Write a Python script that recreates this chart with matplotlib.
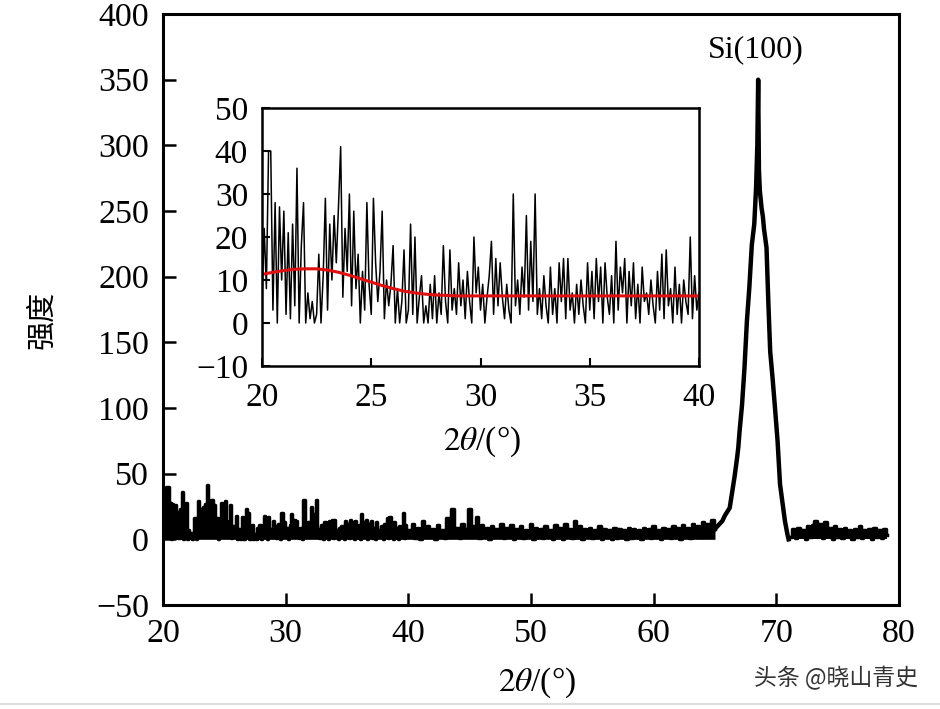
import numpy as np
import matplotlib
matplotlib.use("Agg")
import matplotlib.pyplot as plt
from matplotlib.lines import Line2D

plt.rcParams['font.family'] = ['Liberation Serif', 'DejaVu Serif']
plt.rcParams['mathtext.fontset'] = 'stix'

# 20-40° の細かいスキャン (0.1° 刻み)
scan_x = np.arange(200, 401) / 10.0
scan_y = [
    5, 22, 8, 40, 40, 3, 28, 0, 27, 10,
    26, 2, 21, 1, 23, 4, 36, 0, 18, 28,
    0, 7, 1, 5, 0, 2, 16, 0, 11, 29,
    3, 23, 10, 25, 14, 27, 41, 6, 22, 12,
    30, 4, 26, 8, 16, 0, 12, 3, 28, 9,
    2, 29, 14, 5, 12, 26, 1, 10, 4, 9,
    18, 0, 8, 0, 5, 17, 0, 3, 23, 2,
    20, 0, 6, 11, 0, 4, 0, 9, 1, 11,
    0, 7, 2, 18, 5, 0, 17, 3, 8, 2,
    14, 4, 10, 1, 12, 5, 0, 20, 7, 13,
    3, 9, 0, 6, 11, 19, 2, 15, 4, 14,
    6, 1, 9, 3, 0, 30, 4, 10, 2, 13,
    6, 25, 3, 19, 5, 30, 2, 8, 1, 11,
    4, 0, 13, 2, 8, 0, 14, 5, 15, 1,
    15, 3, 7, 0, 9, 2, 10, 4, 0, 14,
    3, 12, 1, 15, 5, 13, 0, 14, 6, 2,
    11, 0, 19, 3, 13, 7, 15, 0, 12, 4,
    14, 1, 9, 0, 13, 5, 7, 2, 10, 4,
    0, 12, 3, 16, 1, 17, 4, 8, 0, 13,
    2, 9, 0, 10, 5, 2, 20, 1, 11, 3,
    7,
]

# 40-65° (0.2° 刻み)
wide_x = np.arange(201, 326) / 5.0
wide_y = [
    3, 12, 1, 9, 0, 14, 4, 10, 2, 8,
    0, 11, 3, 7, 1, 16, 2, 23, 5, 9,
    1, 12, 3, 8, 23, 2, 10, 17, 1, 11,
    3, 9, 0, 10, 2, 8, 4, 12, 1, 9,
    3, 11, 0, 8, 2, 10, 1, 7, 3, 12,
    0, 9, 2, 8, 1, 10, 3, 7, 0, 11,
    2, 9, 0, 12, 3, 8, 1, 14, 2, 10,
    0, 8, 3, 9, 1, 7, 2, 10, 0, 8,
    2, 7, 0, 9, 1, 8, 3, 7, 0, 9,
    1, 8, 2, 7, 0, 9, 3, 8, 1, 10,
    2, 7, 0, 9, 3, 8, 1, 10, 2, 9,
    0, 11, 3, 9, 1, 12, 4, 10, 2, 13,
    3, 12, 5, 15, 8,
]

# Si(100) ピーク
peak_x = [65.4, 65.6, 65.8, 66.0, 66.2, 66.4, 66.6, 66.8, 66.9, 67.0,
          67.2, 67.4, 67.6, 67.8, 68.0, 68.2, 68.35, 68.45, 68.52, 68.58,
          68.65, 68.8, 68.9, 69.0, 69.2, 69.35, 69.5, 69.7, 69.9, 70.1,
          70.3, 70.5, 70.7, 70.9, 71.0]
peak_y = [12, 14, 18, 21, 24, 36, 48, 62, 70, 82,
          102, 130, 166, 192, 224, 240, 268, 300, 350, 282,
          266, 252, 246, 236, 222, 180, 143, 122, 99, 75,
          42, 28, 14, 4, 0]

# 71-79°
tail_x = np.arange(356, 396) / 5.0
tail_y = [
    2, 8, 1, 9, 3, 7, 0, 10, 2, 11,
    14, 3, 12, 1, 13, 4, 9, 0, 10, 2,
    8, 1, 9, 3, 7, 0, 8, 2, 10, 1,
    7, 3, 8, 0, 9, 2, 7, 1, 8, 3,
]

# 赤いフィット曲線
fit_x = [20, 20.5, 21, 21.5, 22, 22.5, 23, 23.5, 24, 24.5, 25, 25.5, 26,
         26.5, 27, 27.5, 28, 28.5, 29, 30, 32, 34, 36, 38, 40]
fit_y = [11.3, 11.8, 12.2, 12.5, 12.6, 12.6, 12.3, 11.8, 11.1, 10.3, 9.5,
         8.7, 8.0, 7.4, 7.0, 6.7, 6.5, 6.4, 6.3, 6.3, 6.3, 6.3, 6.3, 6.3, 6.3]

fig = plt.figure(figsize=(9.4, 7.09), dpi=100)
ax = fig.add_axes([163 / 940, 1 - 605 / 709, 736 / 940, 591 / 709])
noise_x = np.concatenate([scan_x, wide_x])
noise_y = np.concatenate([scan_y, wide_y])
# 太線で描くと低角側のノイズは黒い帯になる
ax.fill_between(noise_x, 0, noise_y, step='mid', color='black', lw=0)
ax.plot(noise_x, noise_y, color='black', lw=2.5, drawstyle='steps-mid')
ax.plot(np.concatenate([[65.0], peak_x]), np.concatenate([[wide_y[-1]], peak_y]),
        color='black', lw=3.2)
ax.fill_between(tail_x, 0, tail_y, step='mid', color='black', lw=0)
ax.plot(tail_x, tail_y, color='black', lw=2.5, drawstyle='steps-mid')
ax.set_xlim(20, 80)
ax.set_ylim(-50, 400)
ax.set_xticks(np.arange(20, 81, 10))
ax.set_yticks(np.arange(-50, 401, 50))
ax.set_yticklabels(['\u221250'] + [str(v) for v in range(0, 401, 50)])
ax.tick_params(direction='in', length=9, width=1.8, labelsize=24.5, pad=10)
for s in ax.spines.values():
    s.set_linewidth(2.2)
ax.text(68.3, 362, 'Si(100)', ha='center', va='bottom', fontsize=23)

fig.text(537 / 940, 1 - 683 / 709, r'$2\theta$/(°)', ha='center', va='center', fontsize=24)
fig.text(42 / 940, 1 - 320 / 709, '强度', rotation=90, ha='center', va='center',
         fontsize=21, family=['Noto Sans CJK SC', 'DejaVu Sans'])

# 挿入図
ins = fig.add_axes([262 / 940, 1 - 366 / 709, 437 / 940, 258 / 709])
ins.plot(scan_x, scan_y, color='black', lw=1.1)
ins.plot(fit_x, fit_y, color='#e01010', lw=2.2)
ins.set_xlim(20, 40)
ins.set_ylim(-10, 50)
ins.set_xticks([20, 25, 30, 35, 40])
ins.set_yticks(np.arange(-10, 51, 10))
ins.set_yticklabels(['\u221210'] + [str(v) for v in range(0, 51, 10)])
ins.tick_params(direction='in', length=6, width=1.5, labelsize=24, pad=10)
ins.tick_params(axis='x', pad=12)
for s in ins.spines.values():
    s.set_linewidth(1.8)
fig.text(482 / 940, 1 - 442 / 709, r'$2\theta$/(°)', ha='center', va='center', fontsize=24)

# 透かし
fig.text(918 / 940, 1 - 678 / 709, '头条 @晓山青史', ha='right', va='center',
         fontsize=16.5, color='#333333', family=['Noto Sans CJK SC', 'DejaVu Sans'])
fig.add_artist(Line2D([0, 1], [1 - 704 / 709] * 2, transform=fig.transFigure,
                      color='#dddddd', lw=1.5))

fig.savefig('out.png', dpi=100)
